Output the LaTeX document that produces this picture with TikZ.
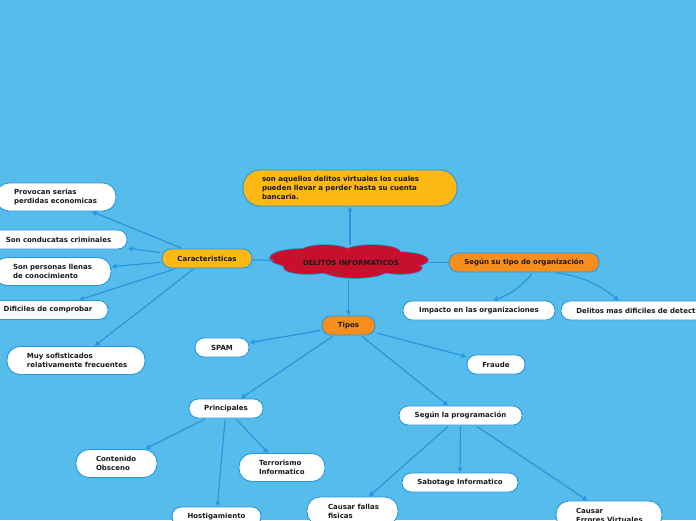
\documentclass[tikz,border=0pt]{standalone}
\usepackage{fontspec}
\setmainfont{DejaVu Sans}
\usetikzlibrary{arrows.meta}
\definecolor{bg}{RGB}{86,188,236}
\definecolor{ln}{RGB}{38,150,222}
\definecolor{yel}{RGB}{253,184,19}
\definecolor{orn}{RGB}{247,142,30}
\definecolor{crim}{RGB}{200,16,46}
\definecolor{txt}{RGB}{25,25,25}
\newcommand{\txl}[1]{\mbox{#1}}
\tikzset{
  base/.style={draw=ln, line width=0.9pt, font=\fontsize{7}{9}\selectfont\bfseries, text=txt,
    inner ysep=0pt, rounded corners=9pt, minimum height=19pt},
  wbox/.style={base, fill=white},
  ybox/.style={base, fill=yel},
  obox/.style={base, fill=orn},
  tall/.style={minimum height=28pt, rounded corners=13pt},
  lft/.style 2 args={text width=#1, inner xsep=#2, align=left},
  con/.style={draw=ln, line width=1.2pt},
  arr/.style={con, -{Latex[length=5pt,width=6pt]}, shorten <=1.5pt},
  lobe/.style={fill=crim},
}
\begin{document}
\begin{tikzpicture}[x=1pt,y=-1pt]
\fill[bg] (0,0) rectangle (696,520);
\useasboundingbox (0,0) rectangle (696,520);
% cloud
\foreach \cx/\cy/\rx/\ry in {349/262/70/12, 300/258/30/9, 325/252/25/7, 372/252/28/7, 398/260/30/8, 308/268/24/6, 355/270/32/8, 400/268/22/6}
  \draw[ln, line width=1.6pt] (\cx,\cy) ellipse [x radius=\rx, y radius=\ry];
\foreach \cx/\cy/\rx/\ry in {349/262/70/12, 300/258/30/9, 325/252/25/7, 372/252/28/7, 398/260/30/8, 308/268/24/6, 355/270/32/8, 400/268/22/6}
  \fill[lobe] (\cx,\cy) ellipse [x radius=\rx, y radius=\ry];
\node[font=\fontsize{7}{9}\selectfont\bfseries, text=txt, minimum width=156pt, minimum height=32pt, inner sep=0pt] (main) at (351,262.5) {DELITOS INFORMATICOS};

% nodes
\node[ybox, tall, minimum height=36pt, rounded corners=17pt, lft={176pt}{19pt}] (def) at (350,188) {\txl{son aquellos delitos virtuales los cuales}\\\txl{pueden llevar a perder hasta su cuenta}\\\txl{bancaria.}};
\node[ybox, minimum width=90pt] (car) at (207,258.5) {Caracteristicas};
\node[obox, minimum width=150pt] (tipo) at (524,262.5) {Según su tipo de organización};
\node[obox, minimum width=53pt] (tipos) at (348.5,325.5) {Tipos};

\node[wbox, tall, lft={84pt}{18pt}] (prov) at (56,197) {\txl{Provocan serias}\\\txl{perdidas economicas}};
\node[wbox, minimum width=137pt] (cond) at (58.5,239.5) {Son conducatas criminales};
\node[wbox, tall, lft={79pt}{19pt}] (pers) at (52.5,271.5) {\txl{Son personas llenas}\\\txl{de conocimiento}};
\node[wbox, minimum width=120pt] (dif) at (48,310) {Dificiles de comprobar};
\node[wbox, tall, lft={98pt}{20pt}] (muy) at (76,360.5) {\txl{Muy sofisticados}\\\txl{relativamente frecuentes}};

\node[wbox, minimum width=54pt] (spam) at (222,347.5) {SPAM};
\node[wbox, minimum width=58pt] (fra) at (496,364.5) {Fraude};
\node[wbox, minimum width=152pt] (imp) at (479,310.5) {Impacto en las organizaciones};
\node[wbox, minimum width=158pt] (det) at (640,310.5) {Delitos mas dificiles de detectar};
\node[wbox, minimum width=74pt] (pri) at (226,408.5) {Principales};
\node[wbox, minimum width=123pt] (prog) at (460.5,415.5) {Según la programación};

\node[wbox, tall, lft={41pt}{20pt}] (cont) at (116.5,463.5) {\txl{Contenido}\\\txl{Obsceno}};
\node[wbox, tall, lft={46pt}{20pt}] (terr) at (282,467.5) {\txl{Terrorismo}\\\txl{Informatico}};
\node[wbox, minimum width=89pt] (host) at (216.5,516.5) {Hostigamiento};
\node[wbox, tall, lft={49pt}{21pt}] (fal) at (352.5,511) {\txl{Causar fallas}\\\txl{fisicas}};
\node[wbox, minimum width=116pt] (sab) at (460,482.5) {Sabotage Informatico};
\node[wbox, tall, lft={66pt}{20pt}] (err) at (609,515) {\txl{Causar}\\\txl{Errores Virtuales}};

% connectors
\draw[arr] (main.north -| def.south) -- (def.south);
\draw[con] (car) -- (main);
\draw[con] (tipo) -- (main);
\draw[arr] (main.south -| tipos.north) -- (tipos);

\draw[arr] (car) -- (prov);
\draw[arr] (car) -- (cond);
\draw[arr] (car) -- (pers);
\draw[arr] (car) -- (dif);
\draw[arr] (car) -- (muy);

\draw[arr] ([xshift=9pt]tipo.south) to[bend left=15] ([xshift=14pt]imp.north);
\draw[arr] ([xshift=31pt]tipo.south) to[bend left=15] ([xshift=-21pt]det.north);

\draw[arr] (tipos) -- (spam);
\draw[arr] (tipos) -- (fra);
\draw[arr] (tipos) -- (pri);
\draw[arr] (tipos) -- (prog);

\draw[arr] (pri) -- (cont);
\draw[arr] (pri) -- (terr);
\draw[arr] (pri) -- (host);

\draw[arr] (prog) -- (fal);
\draw[arr] (prog) -- (sab);
\draw[arr] (prog) -- (err);
\end{tikzpicture}
\end{document}
